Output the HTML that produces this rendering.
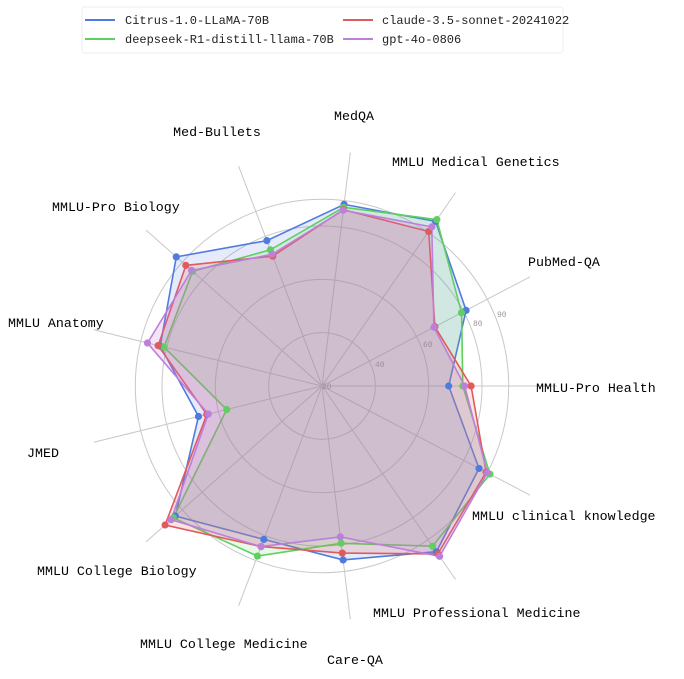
<!DOCTYPE html>
<html><head><meta charset="utf-8"><style>
body{margin:0;background:#fff;width:684px;height:679px;overflow:hidden}
svg{display:block}
text{font-family:"Liberation Mono","Noto Sans CJK SC",monospace}
</style></head><body>
<svg id="s" width="684" height="679" xmlns="http://www.w3.org/2000/svg">
<rect x="82" y="7" width="481" height="46" rx="3" fill="#fff" stroke="#eee"/>
<line x1="85" y1="20" x2="115" y2="20" stroke="#4f7be0" stroke-width="2"/>
<text x="125" y="24" font-size="12" fill="#222">Citrus-1.0-LLaMA-70B</text>
<line x1="85" y1="39" x2="115" y2="39" stroke="#5fcf5f" stroke-width="2"/>
<text x="125" y="43" font-size="12" fill="#222">deepseek-R1-distill-llama-70B</text>
<line x1="343" y1="20" x2="373" y2="20" stroke="#e05b5b" stroke-width="2"/>
<text x="382" y="24" font-size="12" fill="#222">claude-3.5-sonnet-20241022</text>
<line x1="343" y1="39" x2="373" y2="39" stroke="#bd7fdc" stroke-width="2"/>
<text x="382" y="43" font-size="12" fill="#222">gpt-4o-0806</text>
<g id="g"></g>
</svg>
<script>
var cx=322,cy=386,k=2.667;
function R(v){return (v-20)*k;}
var n=13,g='';
function P(i,r){var a=i*2*Math.PI/n;return [cx+r*Math.cos(a),cy-r*Math.sin(a)];}
[40,60,80,90].forEach(function(v){g+='<circle cx="'+cx+'" cy="'+cy+'" r="'+R(v)+'" fill="none" stroke="#c8c8c8" stroke-width="1"/>';});
for(var i=0;i<n;i++){var p=P(i,235);g+='<line x1="'+cx+'" y1="'+cy+'" x2="'+p[0]+'" y2="'+p[1]+'" stroke="#c8c8c8" stroke-width="1"/>';}
var ticks=[[20,322,389],[40,375,367],[60,423,347],[80,473,326],[90,497,317]];
ticks.forEach(function(t){g+='<text x="'+t[1]+'" y="'+t[2]+'" font-size="8" fill="#999" font-family="Liberation Sans">'+t[0]+'</text>';});
var data=[
['#4f7be0',[67.5,81,95,88.6,78.3,93,82.5,67.7,93.5,81.5,85.7,95.5,86.5],0.15],
['#5fcf5f',[72.8,79.1,95.8,87.5,74.6,84.8,81,56.8,94.5,88.2,79.4,93,91.1],0.15],
['#e05b5b',[75.9,67.8,90.4,86.6,72.1,88.2,83.3,64.5,98.6,84.4,83.1,96.5,89.5],0.17],
['#bd7fdc',[73.5,67.4,92.5,86.4,72.8,85.3,87.4,63.9,95.6,84.4,77,97.6,90],0.2]];
data.forEach(function(d){var pts=d[1].map(function(v,i){return P(i,R(v)).map(function(x){return x.toFixed(1)}).join(',');});
g+='<polygon points="'+pts.join(' ')+'" fill="'+d[0]+'" fill-opacity="'+d[2]+'" stroke="'+d[0]+'" stroke-width="1.6"/>';});
data.forEach(function(d){d[1].forEach(function(v,i){var p=P(i,R(v));g+='<circle cx="'+p[0]+'" cy="'+p[1]+'" r="3.6" fill="'+d[0]+'"/>';});});
var labels=[['MedQA',354,120,'middle'],['Med-Bullets',217,136,'middle'],['MMLU Medical Genetics',392,166,'start'],['MMLU-Pro Biology',52,211,'start'],['PubMed-QA',528,266,'start'],['MMLU Anatomy',8,327,'start'],['MMLU-Pro Health',536,392,'start'],['JMED',27,457,'start'],['MMLU clinical knowledge',472,520,'start'],['MMLU College Biology',37,575,'start'],['MMLU Professional Medicine',373,617,'start'],['MMLU College Medicine',140,648,'start'],['Care-QA',327,664,'start']];
labels.forEach(function(l){g+='<text x="'+l[1]+'" y="'+l[2]+'" font-size="13.3" fill="#000" text-anchor="'+l[3]+'">'+l[0]+'</text>';});
document.getElementById('g').innerHTML=g;
</script>
</body></html>
